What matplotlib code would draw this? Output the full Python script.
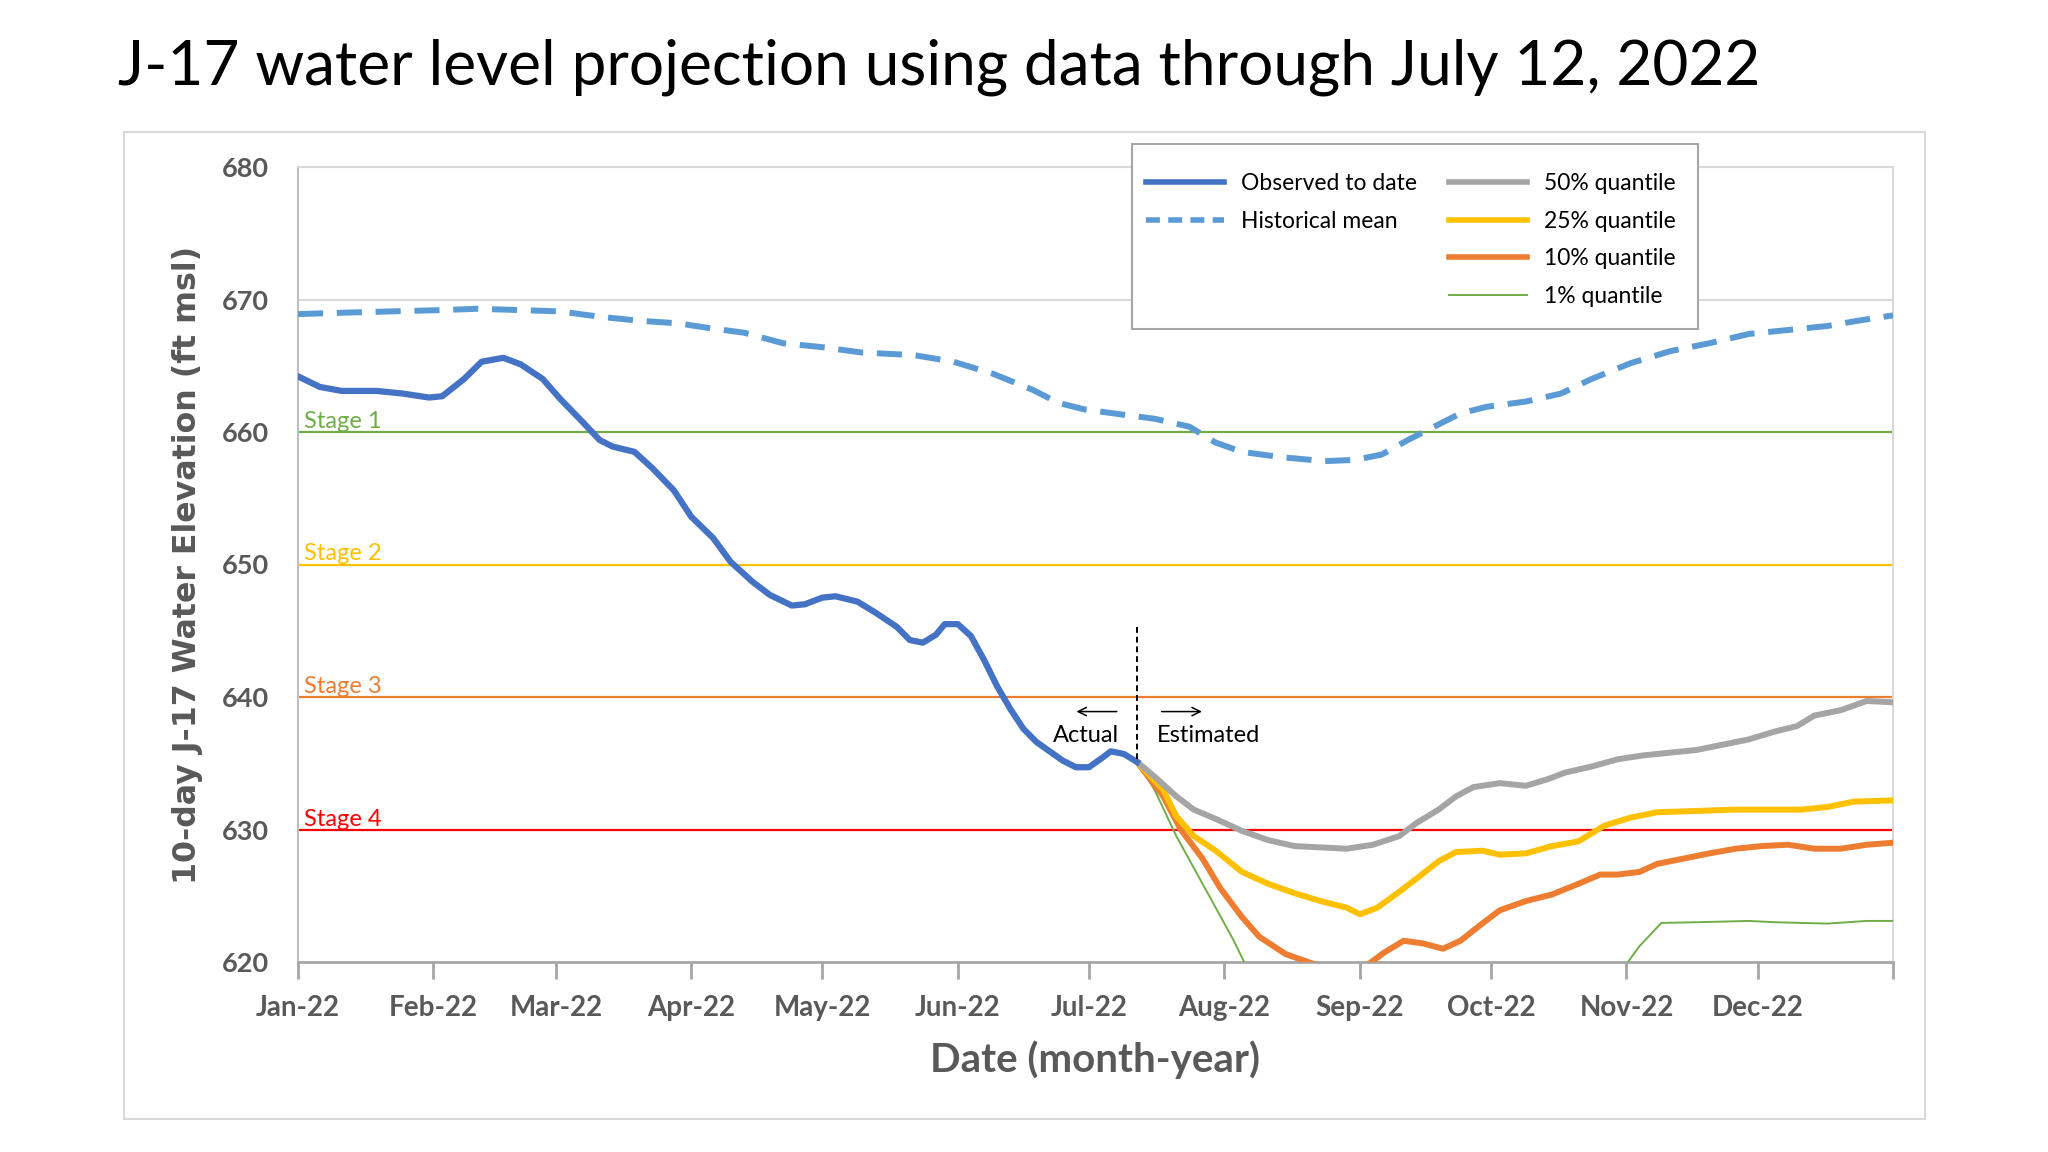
import matplotlib
matplotlib.use('Agg')
import matplotlib.pyplot as plt
from matplotlib.lines import Line2D
from matplotlib.patches import Rectangle
import numpy as np
import pandas as pd

# days are counted from Jan 1, 2022
start = pd.Timestamp('2022-01-01')
cutoff_day = 192  # July 12

obs_day = [0, 5, 10, 18, 24, 30, 33, 38, 42, 47, 51, 56, 60, 65, 69, 72, 77, 81, 86,
           90, 95, 99, 104, 108, 113, 116, 120, 123, 128, 132, 137, 140, 143, 146, 148,
           151, 154, 157, 160, 163, 166, 169, 172, 175, 178, 181, 184, 186, 189, 192]
obs_level = [664.2, 663.4, 663.1, 663.1, 662.9, 662.6, 662.7, 664.0, 665.3, 665.6, 665.1,
             664.0, 662.5, 660.8, 659.4, 658.9, 658.5, 657.3, 655.6, 653.6, 652.0, 650.2,
             648.7, 647.7, 646.9, 647.0, 647.5, 647.6, 647.2, 646.4, 645.3, 644.3, 644.1,
             644.7, 645.5, 645.5, 644.6, 642.8, 640.8, 639.1, 637.6, 636.6, 635.9, 635.2,
             634.7, 634.7, 635.4, 635.9, 635.7, 635.1]

hist_day = [0, 10, 21, 33, 41, 51, 60, 69, 78, 87, 95, 102, 111, 120, 129, 141, 150, 159,
            168, 174, 180, 189, 196, 204, 210, 216, 225, 235, 242, 248, 254, 260, 266,
            272, 281, 289, 296, 305, 314, 323, 332, 341, 350, 357, 365]
hist_level = [668.9, 669.0, 669.1, 669.2, 669.3, 669.2, 669.1, 668.7, 668.4, 668.2, 667.8,
              667.5, 666.7, 666.4, 666.0, 665.8, 665.3, 664.4, 663.2, 662.2, 661.7, 661.3,
              661.0, 660.4, 659.2, 658.5, 658.1, 657.8, 657.9, 658.3, 659.4, 660.4, 661.4,
              661.9, 662.3, 662.9, 664.0, 665.2, 666.1, 666.7, 667.4, 667.7, 668.0, 668.4,
              668.8]

q50_day = [192, 196, 201, 205, 210, 216, 222, 228, 234, 240, 246, 252, 256, 261, 265, 269,
           275, 281, 286, 290, 296, 302, 308, 314, 320, 326, 332, 338, 343, 347, 353, 359, 365]
q50_level = [635.1, 634.0, 632.5, 631.5, 630.8, 629.9, 629.2, 628.75, 628.65, 628.55, 628.85,
             629.5, 630.5, 631.5, 632.5, 633.2, 633.5, 633.3, 633.8, 634.3, 634.75, 635.3,
             635.6, 635.8, 636.0, 636.4, 636.8, 637.4, 637.8, 638.6, 639.0, 639.7, 639.6]

q25_day = [192, 198, 201, 205, 210, 216, 222, 228, 234, 240, 243, 247, 252, 256, 261, 265,
           271, 275, 281, 287, 293, 299, 305, 311, 320, 329, 338, 344, 350, 356, 365]
q25_level = [635.1, 633.0, 631.0, 629.5, 628.4, 626.8, 625.9, 625.2, 624.6, 624.1, 623.6,
             624.1, 625.3, 626.3, 627.6, 628.3, 628.4, 628.1, 628.2, 628.75, 629.1, 630.3,
             630.9, 631.3, 631.4, 631.5, 631.5, 631.5, 631.7, 632.1, 632.2]

q10_day = [192, 198, 202, 207, 211, 216, 220, 226, 232, 238, 244, 248.5, 253, 257.5, 262,
           266, 271, 275, 281, 287, 293, 298, 302, 307, 311, 317, 323, 329, 335, 341, 347,
           353, 359, 365]
q10_level = [635.1, 632.5, 630.0, 627.8, 625.6, 623.4, 621.9, 620.6, 619.9, 619.4, 619.6,
             620.7, 621.6, 621.4, 621.0, 621.6, 622.9, 623.9, 624.6, 625.1, 625.9, 626.6,
             626.6, 626.8, 627.4, 627.8, 628.2, 628.55, 628.75, 628.85, 628.55, 628.55,
             628.85, 629.0]

# the 1% run drops below the axis between Aug and Nov
q1_day = [192, 196, 201, 205, 210, 214, 218, np.nan, 303, 307, 312, 320, 332, 338, 350,
          359, 365]
q1_level = [635.1, 633.0, 629.5, 627.1, 624.1, 621.7, 619.0, np.nan, 619.4, 621.2, 622.95,
            623.0, 623.1, 623.0, 622.9, 623.1, 623.1]

stage_level = [660, 650, 640, 630]
stage_names = ['Stage 1', 'Stage 2', 'Stage 3', 'Stage 4']
stage_colors = ['#70AD47', '#FFC000', '#ED7D31', '#FF0000']


def to_dates(days):
    return start + pd.to_timedelta(np.asarray(days, dtype=float), unit='D')


FONT = 'Lato'
GREY_TXT = '#595959'

fig = plt.figure(figsize=(20.48, 11.52), dpi=100)
ax = fig.add_axes([298 / 2048, 1 - 962 / 1152, (1893 - 298) / 2048, (962 - 167) / 1152])

# outer chart border
fig.patches.append(Rectangle((124 / 2048, 1 - 1119 / 1152), (1925 - 124) / 2048,
                             (1119 - 132) / 1152, transform=fig.transFigure,
                             fill=False, ec='#D9D9D9', lw=1.5))

fig.text(118 / 2048, 1 - 85 / 1152, 'J-17 water level projection using data through July 12, 2022',
         fontsize=44.75, family=FONT, va='baseline', ha='left', color='black')

for y in [670, 680]:
    ax.axhline(y, color='#D9D9D9', lw=1.5, zorder=1)

for lvl, name, col in zip(stage_level, stage_names, stage_colors):
    ax.axhline(lvl, color=col, lw=1.6, zorder=2)
    ax.text(to_dates([1.3])[0], lvl, name, color=col, fontsize=17, family=FONT,
            ha='left', va='bottom', zorder=3)

ax.plot(to_dates(hist_day), hist_level, color='#5B9BD5', lw=4.3, dashes=(4.2, 2.3), zorder=4)
ax.plot(to_dates(q1_day), q1_level, color='#70AD47', lw=1.4, zorder=5)
ax.plot(to_dates(q10_day), q10_level, color='#ED7D31', lw=4.3, zorder=6)
ax.plot(to_dates(q25_day), q25_level, color='#FFC000', lw=4.3, zorder=7)
ax.plot(to_dates(q50_day), q50_level, color='#A5A5A5', lw=4.3, zorder=8)
ax.plot(to_dates(obs_day), obs_level, color='#4472C4', lw=4.5, zorder=9,
        solid_joinstyle='round')

# actual / estimated divider
cut = to_dates([cutoff_day])[0]
ax.plot([cut, cut], [645.3, 635.3], color='black', lw=1.4, ls=(0, (3, 2)), zorder=10)
ax.annotate('', xy=(to_dates([177.5])[0], 638.9), xytext=(to_dates([188])[0], 638.9),
            arrowprops=dict(arrowstyle='->,head_length=0.6,head_width=0.3', color='black', lw=1.1))
ax.annotate('', xy=(to_dates([207.5])[0], 638.9), xytext=(to_dates([197])[0], 638.9),
            arrowprops=dict(arrowstyle='->,head_length=0.6,head_width=0.3', color='black', lw=1.1))
ax.text(to_dates([188])[0], 637.1, 'Actual', ha='right', va='center', fontsize=17, family=FONT)
ax.text(to_dates([196.5])[0], 637.1, 'Estimated', ha='left', va='center', fontsize=17, family=FONT)

ax.set_ylim(620, 680)
ax.set_yticks([620, 630, 640, 650, 660, 670, 680])
ax.set_xlim(start, pd.Timestamp('2023-01-01'))
month_starts = pd.date_range('2022-01-01', '2023-01-01', freq='MS')
ax.set_xticks(month_starts)
ax.set_xticklabels([d.strftime('%b-%y') for d in month_starts[:-1]] + [''])

ax.tick_params(axis='y', length=0, pad=21, labelsize=19.5, labelcolor=GREY_TXT)
ax.tick_params(axis='x', length=12, width=2, color='#A6A6A6', direction='out', pad=12,
               labelsize=20, labelcolor=GREY_TXT)
for lab in ax.get_xticklabels() + ax.get_yticklabels():
    lab.set_family(FONT)
    lab.set_fontweight('bold')

ax.spines['left'].set_color('#BFBFBF')
ax.spines['left'].set_linewidth(1.5)
ax.spines['bottom'].set_color('#A6A6A6')
ax.spines['bottom'].set_linewidth(2)
ax.spines['top'].set_color('#D9D9D9')
ax.spines['top'].set_linewidth(1.5)
ax.spines['right'].set_color('#D9D9D9')
ax.spines['right'].set_linewidth(1.5)

fig.text(188 / 2048, 1 - 565 / 1152, '10-day J-17 Water Elevation (ft msl)', rotation=90,
         ha='center', va='center', fontsize=22.8, fontweight='bold', family='DejaVu Sans',
         color=GREY_TXT)
fig.text(1095 / 2048, 1 - 1060 / 1152, 'Date (month-year)', ha='center', va='center',
         fontsize=29, fontweight='bold', family=FONT, color=GREY_TXT)

# legend frame drawn separately so its padding can match
ax.add_patch(Rectangle((0.5229, 0.796), 0.3549, 0.233, transform=ax.transAxes,
                       fc='white', ec='#A6A6A6', lw=1.5, clip_on=False, zorder=19))

blank = Line2D([], [], color='none')
handles = [
    Line2D([], [], color='#4472C4', lw=4),
    Line2D([], [], color='#5B9BD5', lw=4, dashes=(2.5, 1.5)),
    blank, blank,
    Line2D([], [], color='#A5A5A5', lw=4),
    Line2D([], [], color='#FFC000', lw=4),
    Line2D([], [], color='#ED7D31', lw=4),
    Line2D([], [], color='#70AD47', lw=1.4),
]
labels = ['Observed to date', 'Historical mean', ' ', ' ',
          '50% quantile', '25% quantile', '10% quantile', '1% quantile']
leg = ax.legend(handles, labels, ncol=2, loc='upper left', bbox_to_anchor=(0.5317, 0.993),
                prop={'family': FONT, 'size': 16.5}, frameon=False,
                handlelength=3.4, handletextpad=0.75, columnspacing=1.4,
                labelspacing=0.74, borderpad=0, borderaxespad=0)
leg.set_zorder(20)

fig.savefig('out.png', dpi=100)
